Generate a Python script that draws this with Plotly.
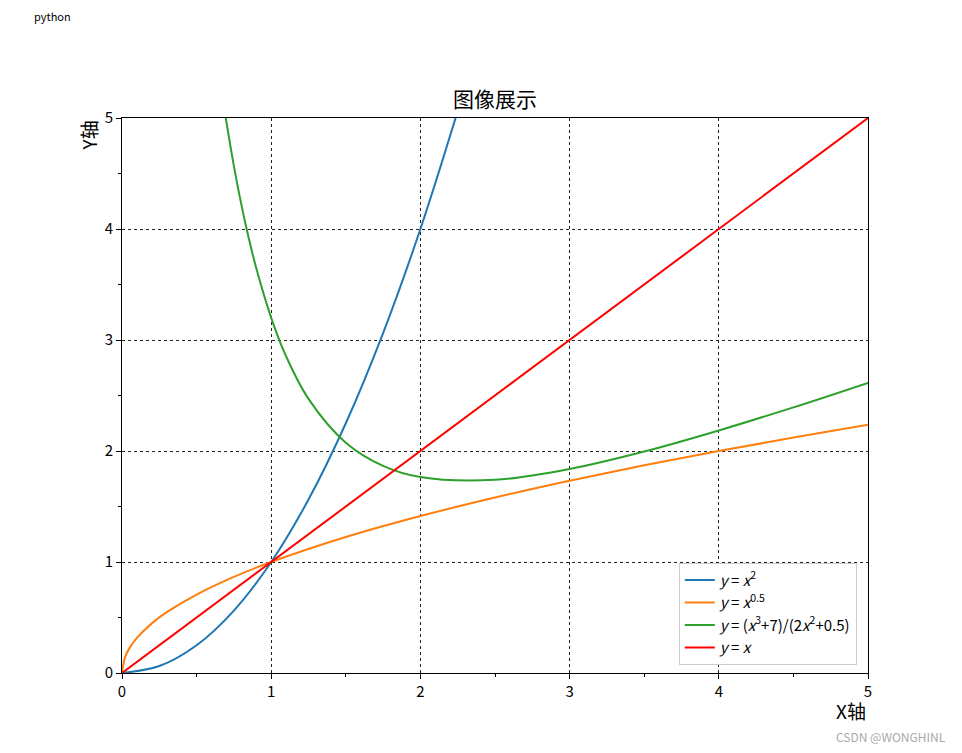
import plotly.graph_objects as go

# values
x_sq = [0, 0.25, 0.5, 0.75, 1.0, 1.25, 1.5, 1.75, 2.0, 2.25]
y_sq = [0, 0.0625, 0.25, 0.5625, 1.0, 1.5625, 2.25, 3.0625, 4.0, 5.0625]

x_rt = [0, 0.02, 0.05, 0.1, 0.2, 0.3, 0.5, 0.75, 1.0, 1.5, 2.0, 2.5, 3.0, 3.5, 4.0, 4.5, 5.0]
y_rt = [0, 0.141, 0.224, 0.316, 0.447, 0.548, 0.707, 0.866, 1.0, 1.225, 1.414, 1.581, 1.732, 1.871, 2.0, 2.121, 2.236]

x_fr = [0.69, 0.75, 0.8, 0.85, 0.9, 1.0, 1.1, 1.25, 1.5, 1.75, 2.0, 2.5, 3.0, 3.5, 4.0, 4.5, 5.0]
y_fr = [5.046, 4.567, 4.22, 3.915, 3.646, 3.2, 2.853, 2.47, 2.075, 1.866, 1.765, 1.74, 1.838, 1.995, 2.185, 2.393, 2.614]

x_ln = [0, 5]
y_ln = [0, 5]

font = "Noto Sans CJK SC, DejaVu Sans"

fig = go.Figure()
fig.add_trace(go.Scatter(x=x_sq, y=y_sq, mode="lines", line=dict(color="#1f77b4", width=2, shape="spline"),
                         name="<i>y</i> = <i>x</i><sup>2</sup>"))
fig.add_trace(go.Scatter(x=x_rt, y=y_rt, mode="lines", line=dict(color="#ff7f0e", width=2, shape="spline"),
                         name="<i>y</i> = <i>x</i><sup>0.5</sup>"))
fig.add_trace(go.Scatter(x=x_fr, y=y_fr, mode="lines", line=dict(color="#2ca02c", width=2, shape="spline"),
                         name="<i>y</i> = (<i>x</i><sup>3</sup>+7)/(2<i>x</i><sup>2</sup>+0.5)"))
fig.add_trace(go.Scatter(x=x_ln, y=y_ln, mode="lines", line=dict(color="red", width=2),
                         name="<i>y</i> = <i>x</i>"))

axis = dict(range=[0, 5], dtick=1, showgrid=True, gridcolor="#222222", griddash="dot", gridwidth=0.8,
            showline=True, linecolor="black", linewidth=1, mirror=True, zeroline=False,
            ticks="outside", ticklen=5, tickcolor="black",
            minor=dict(dtick=0.5, ticks="outside", ticklen=3, tickcolor="black", showgrid=False),
            tickfont=dict(size=15, color="black", family=font))

fig.update_layout(
    width=946, height=737,
    margin=dict(l=114, r=86, t=110, b=72),
    paper_bgcolor="white", plot_bgcolor="white",
    font=dict(family=font, color="black"),
    title=dict(text="图像展示", x=0.5, xanchor="center", xref="paper", y=1 - 92 / 737, yanchor="middle",
               font=dict(size=21, color="black")),
    xaxis=axis, yaxis=axis,
    showlegend=True,
    legend=dict(x=0.985, y=0.015, xanchor="right", yanchor="bottom", bgcolor="white",
                bordercolor="#cccccc", borderwidth=1, tracegroupgap=6,
                font=dict(size=15, color="black")),
    annotations=[
        dict(text="Y轴", xref="paper", yref="paper", x=-0.045, y=1.0, textangle=-90, showarrow=False,
             xanchor="center", yanchor="top", font=dict(size=19)),
        dict(text="X轴", xref="paper", yref="paper", x=1.0, y=-0.04, showarrow=False,
             xanchor="right", yanchor="top", font=dict(size=19)),
        dict(text="python", xref="paper", yref="paper", x=-90 / 746, y=1 + 102 / 555, showarrow=False,
             xanchor="left", yanchor="middle", font=dict(size=11)),
        dict(text="CSDN @WONGHINL", xref="paper", yref="paper", x=1 + 80 / 746, y=-63 / 555, showarrow=False,
             xanchor="right", yanchor="middle", font=dict(size=12, color="#aaaaaa")),
    ],
)

fig.write_html("out.html")
